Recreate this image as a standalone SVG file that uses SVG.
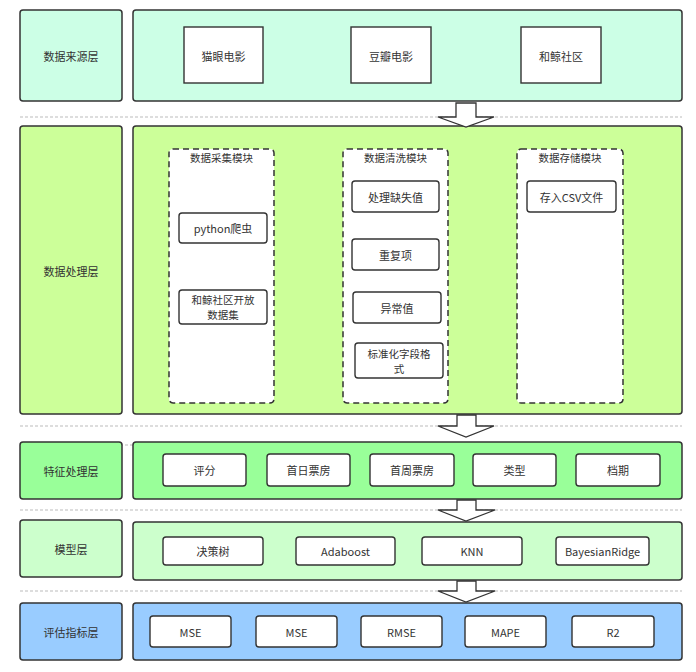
<svg xmlns="http://www.w3.org/2000/svg" width="696" height="672" viewBox="0 0 696 672">
<style>
text{font-family:"Noto Sans CJK SC","Noto Sans",sans-serif;font-size:11px;fill:#333;text-anchor:middle;dominant-baseline:central}
.lay{stroke:#333;stroke-width:1.5}
.n{fill:#fff;stroke:#333;stroke-width:1.4}
.mod{fill:#fff;stroke:#333;stroke-width:1.5;stroke-dasharray:6 4}
.sep{stroke:#bbb;stroke-width:1;stroke-dasharray:3 2;fill:none}
.arr{fill:#fff;stroke:#333;stroke-width:1.3;stroke-linejoin:miter}
.l1{fill:#ccffe6}.l2{fill:#ccff99}.l3{fill:#99ff99}.l4{fill:#ccffcc}.l5{fill:#99ccff}
.t{font-size:10.5px}
.two{font-size:10.5px}
</style>
<rect width="696" height="672" fill="#fff"/>
<g id="separators">
<line class="sep" x1="20" y1="117" x2="682" y2="117"/>
<line class="sep" x1="20" y1="426" x2="682" y2="426"/>
<line class="sep" x1="20" y1="445" x2="682" y2="445"/>
<line class="sep" x1="20" y1="510" x2="682" y2="510"/>
<line class="sep" x1="20" y1="591" x2="682" y2="591"/>
</g>
<g id="layer1">
<rect class="lay l1" x="20" y="10" width="102" height="91" rx="3"/>
<text x="71" y="56">数据来源层</text>
<rect class="lay l1" x="133" y="10" width="549" height="91" rx="3"/>
</g>
<g id="n-maoyan"><rect class="n" x="184" y="27" width="79" height="56"/><text x="223.5" y="56">猫眼电影</text></g>
<g id="n-douban"><rect class="n" x="351" y="27" width="80" height="56"/><text x="391" y="56">豆瓣电影</text></g>
<g id="n-heywhale"><rect class="n" x="521" y="27" width="80" height="56"/><text x="561" y="56">和鲸社区</text></g>
<g id="layer2">
<rect class="lay l2" x="20" y="126" width="102" height="288" rx="3"/>
<text x="71" y="271">数据处理层</text>
<rect class="lay l2" x="133" y="126" width="549" height="288" rx="3"/>
</g>
<g id="m-collect">
<rect class="mod" x="169" y="149" width="105" height="254" rx="4"/>
<text class="t" x="221.5" y="157">数据采集模块</text>
</g>
<g id="m-clean">
<rect class="mod" x="343" y="149" width="105" height="254" rx="4"/>
<text class="t" x="395.5" y="157">数据清洗模块</text>
</g>
<g id="m-store">
<rect class="mod" x="517" y="149" width="106" height="254" rx="4"/>
<text class="t" x="570" y="157">数据存储模块</text>
</g>
<g id="n-python"><rect class="n" x="179" y="213" width="88" height="30" rx="3"/><text x="223" y="228">python爬虫</text></g>
<g id="n-dataset"><rect class="n" x="179" y="290" width="88" height="34" rx="3"/><text class="two" x="223" y="299.5">和鲸社区开放</text><text class="two" x="223" y="314.5">数据集</text></g>
<g id="n-missing"><rect class="n" x="352" y="181" width="87" height="31" rx="3"/><text x="395.5" y="196.5">处理缺失值</text></g>
<g id="n-dup"><rect class="n" x="352" y="239" width="87" height="31" rx="3"/><text x="395.5" y="254.5">重复项</text></g>
<g id="n-outlier"><rect class="n" x="353" y="292" width="88" height="31" rx="3"/><text x="397" y="307.5">异常值</text></g>
<g id="n-format"><rect class="n" x="355" y="343" width="88" height="35" rx="3"/><text class="two" x="399" y="353">标准化字段格</text><text class="two" x="399" y="368">式</text></g>
<g id="n-csv"><rect class="n" x="527" y="181" width="89" height="31" rx="3"/><text x="571.5" y="196.5">存入CSV文件</text></g>
<g id="layer3">
<rect class="lay l3" x="20" y="442" width="102" height="57" rx="3"/>
<text x="71" y="471">特征处理层</text>
<rect class="lay l3" x="133" y="442" width="549" height="57" rx="3"/>
</g>
<g id="n-score"><rect class="n" x="163" y="454" width="83" height="32" rx="3"/><text x="204.5" y="470">评分</text></g>
<g id="n-day1"><rect class="n" x="267" y="454" width="83" height="32" rx="3"/><text x="308.5" y="470">首日票房</text></g>
<g id="n-week1"><rect class="n" x="370" y="454" width="84" height="32" rx="3"/><text x="412" y="470">首周票房</text></g>
<g id="n-genre"><rect class="n" x="473" y="454" width="83" height="32" rx="3"/><text x="514.5" y="470">类型</text></g>
<g id="n-schedule"><rect class="n" x="576" y="454" width="84" height="32" rx="3"/><text x="618" y="470">档期</text></g>
<g id="layer4">
<rect class="lay l4" x="20" y="520" width="102" height="57" rx="3"/>
<text x="71" y="549">模型层</text>
<rect class="lay l4" x="133" y="522" width="549" height="58" rx="3"/>
</g>
<g id="n-dt"><rect class="n" x="163" y="537" width="100" height="28" rx="3"/><text x="213" y="551">决策树</text></g>
<g id="n-ada"><rect class="n" x="296" y="537" width="99" height="28" rx="3"/><text x="345.5" y="551">Adaboost</text></g>
<g id="n-knn"><rect class="n" x="422" y="537" width="100" height="28" rx="3"/><text x="472" y="551">KNN</text></g>
<g id="n-br"><rect class="n" x="556" y="537" width="93" height="28" rx="3"/><text x="602.5" y="551">BayesianRidge</text></g>
<g id="layer5">
<rect class="lay l5" x="20" y="603" width="102" height="57" rx="3"/>
<text x="71" y="632">评估指标层</text>
<rect class="lay l5" x="133" y="603" width="549" height="57" rx="3"/>
</g>
<g id="n-mse1"><rect class="n" x="150" y="616" width="81" height="31" rx="3"/><text x="190.5" y="631.5">MSE</text></g>
<g id="n-mse2"><rect class="n" x="256" y="616" width="81" height="31" rx="3"/><text x="296.5" y="631.5">MSE</text></g>
<g id="n-rmse"><rect class="n" x="361" y="616" width="81" height="31" rx="3"/><text x="401.5" y="631.5">RMSE</text></g>
<g id="n-mape"><rect class="n" x="465" y="616" width="81" height="31" rx="3"/><text x="505.5" y="631.5">MAPE</text></g>
<g id="n-r2"><rect class="n" x="572" y="616" width="82" height="31" rx="3"/><text x="613" y="631.5">R2</text></g>
<g id="connectors">
<path class="arr" d="M456,103 L476,103 L476,117 L494,117 L466,127 L438,117 L456,117 Z"/>
<path class="arr" d="M457,415 L476,415 L476,426 L494,426 L466,437 L438,426 L457,426 Z"/>
<path class="arr" d="M457,500 L476,500 L476,510 L495,510 L466,521 L438,510 L457,510 Z"/>
<path class="arr" d="M457,581 L476,581 L476,591 L495,591 L466,602 L438,591 L457,591 Z"/>
</g>
</svg>
